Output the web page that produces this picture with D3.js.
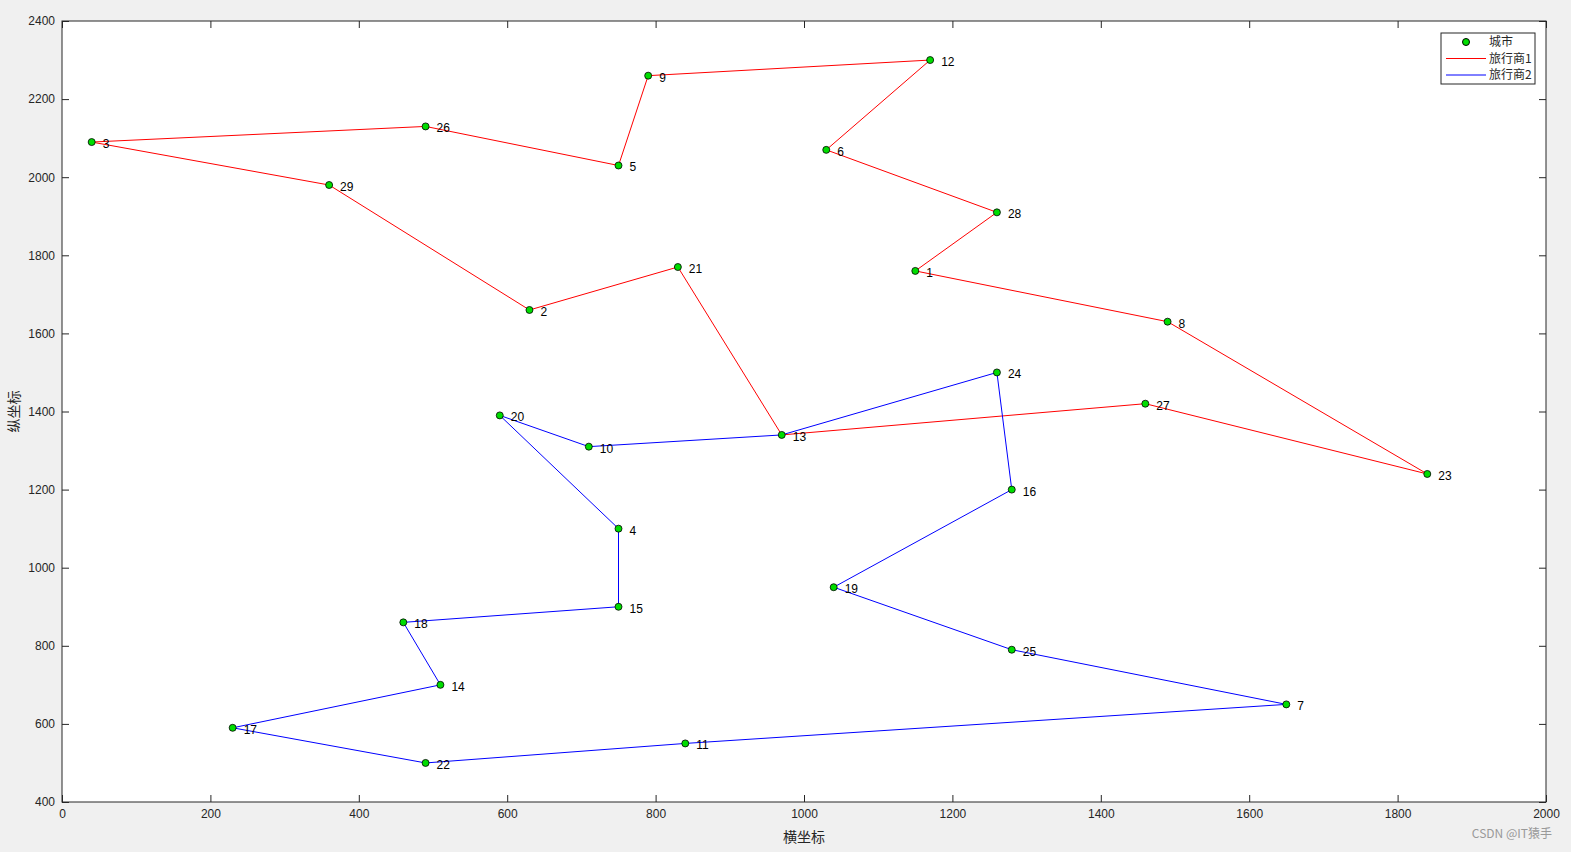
<!DOCTYPE html>
<html>
<head>
<meta charset="UTF-8">
<script src="https://cdn.jsdelivr.net/npm/d3@7"></script>
<style>
body{margin:0;background:#f0f0f0;font-family:"Liberation Sans",Arial,sans-serif;overflow:hidden;}
svg{display:block;}
.tick text{font-size:12px;fill:#262626;}
</style>
</head>
<body>
<svg id="chart" width="1571" height="852"></svg>
<script>
// city coordinates
let cityIds = [1,2,3,4,5,6,7,8,9,10,11,12,13,14,15,16,17,18,19,20,21,22,23,24,25,26,27,28,29];
let cityX = [1150,630,40,750,750,1030,1650,1490,790,710,840,1170,970,510,750,1280,230,460,1040,590,830,490,1840,1260,1280,490,1460,1260,360];
let cityY = [1760,1660,2090,1100,2030,2070,650,1630,2260,1310,550,2300,1340,700,900,1200,590,860,950,1390,1770,500,1240,1500,790,2130,1420,1910,1980];
let route1 = [3,26,5,9,12,6,28,1,8,23,27,13,21,2,29,3];
let route2 = [13,24,16,19,25,7,11,22,17,14,18,15,4,20,10,13];
let xTicks = d3.range(0,2001,200);
let yTicks = d3.range(400,2401,200);

let svg = d3.select('#chart');
let m = {l:62, r:1546, t:21, b:802};
let x = d3.scaleLinear().domain([0,2000]).range([m.l,m.r]);
let y = d3.scaleLinear().domain([400,2400]).range([m.b,m.t]);
let fmt = d3.format('d');

svg.append('rect').attr('x',m.l).attr('y',m.t).attr('width',m.r-m.l).attr('height',m.b-m.t)
    .attr('fill','#fff');

let axisStyle = g => { g.select('.domain').remove(); g.selectAll('line').attr('stroke','#262626'); };
svg.append('g').attr('transform','translate(0,'+m.b+')')
    .call(d3.axisBottom(x).tickValues(xTicks).tickFormat(fmt).tickSize(-7).tickPadding(7)).call(axisStyle);
svg.append('g').attr('transform','translate(0,'+m.t+')')
    .call(d3.axisTop(x).tickValues(xTicks).tickSize(-7).tickFormat('')).call(axisStyle);
svg.append('g').attr('transform','translate('+m.l+',0)')
    .call(d3.axisLeft(y).tickValues(yTicks).tickFormat(fmt).tickSize(-7).tickPadding(7)).call(axisStyle);
svg.append('g').attr('transform','translate('+m.r+',0)')
    .call(d3.axisRight(y).tickValues(yTicks).tickSize(-7).tickFormat('')).call(axisStyle);
svg.append('rect').attr('x',m.l).attr('y',m.t).attr('width',m.r-m.l).attr('height',m.b-m.t)
    .attr('fill','none').attr('stroke','#262626');

let pt = id => [x(cityX[id-1]), y(cityY[id-1])];
let line = d3.line();
svg.append('path').attr('d',line(route1.map(pt))).attr('fill','none').attr('stroke','#ff0000');
svg.append('path').attr('d',line(route2.map(pt))).attr('fill','none').attr('stroke','#0000ff');

svg.selectAll('circle.city').data(cityIds).enter().append('circle')
    .attr('cx',d=>pt(d)[0]).attr('cy',d=>pt(d)[1]).attr('r',3.5)
    .attr('fill','#00dd00').attr('stroke','#000').attr('stroke-width',0.8);
svg.selectAll('text.lab').data(cityIds).enter().append('text')
    .attr('x',d=>pt(d)[0]+11).attr('y',d=>pt(d)[1]+6)
    .attr('font-size',12).attr('fill','#000').text(d=>d);

svg.append('text').attr('x',(m.l+m.r)/2).attr('y',842).attr('text-anchor','middle')
    .attr('font-size',14).attr('font-family','Noto Sans CJK SC').attr('fill','#262626').text('横坐标');
svg.append('text').attr('transform','translate(19,'+(m.t+m.b)/2+') rotate(-90)').attr('text-anchor','middle')
    .attr('font-size',14).attr('font-family','Noto Sans CJK SC').attr('fill','#262626').text('纵坐标');

// legend
let lg = svg.append('g').attr('transform','translate(1441,33)');
lg.append('rect').attr('width',94).attr('height',51).attr('fill','#fff').attr('stroke','#262626');
let items = ['城市','旅行商1','旅行商2'];
items.forEach((t,i)=>{
    let yy = 9+i*16.5;
    if(i==0) lg.append('circle').attr('cx',25).attr('cy',yy).attr('r',3.5).attr('fill','#00dd00').attr('stroke','#000');
    else lg.append('line').attr('x1',5).attr('x2',45).attr('y1',yy).attr('y2',yy).attr('stroke',i==1?'#ff0000':'#0000ff');
    lg.append('text').attr('x',48).attr('y',yy+4).attr('font-size',12)
        .attr('font-family','Noto Sans CJK SC').attr('fill','#262626').text(t);
});
svg.append('text').attr('x',1552).attr('y',838).attr('text-anchor','end').attr('font-size',12)
    .attr('fill','#999').attr('font-family','Noto Sans CJK SC').text('CSDN @IT猿手');
</script>
</body>
</html>
